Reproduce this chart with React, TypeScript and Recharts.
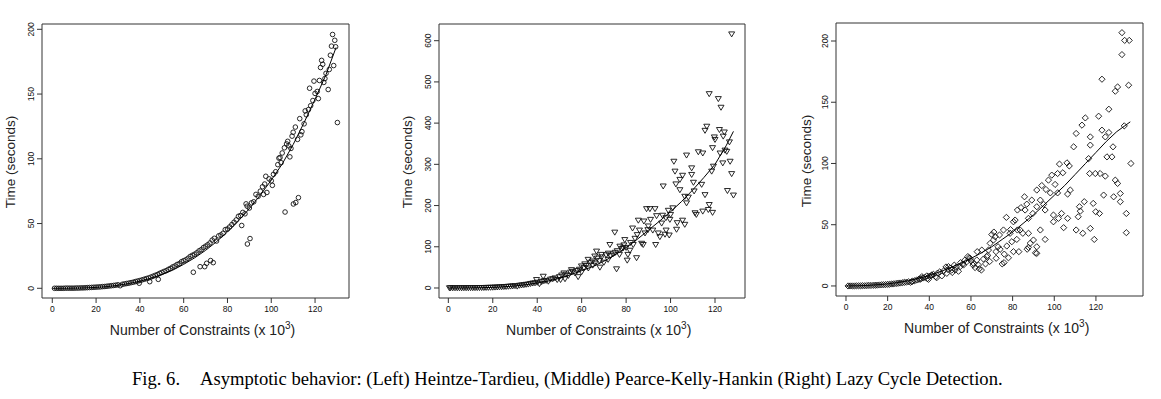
import React from 'react';
import {
  ScatterChart,
  Scatter,
  XAxis,
  YAxis,
  ReferenceArea,
} from 'recharts';

// x in thousands of constraints, y in seconds
const xTicks = [0, 20, 40, 60, 80, 100, 120];
const htTicks = [0, 50, 100, 150, 200];
const pkTicks = [0, 100, 200, 300, 400, 500, 600];
const lcTicks = [0, 50, 100, 150, 200];

const htPoints = [
  [1, 0], [2, 0], [3, 0], [4, 0], [5, 0], [6, 0.1], [7, 0.1], [8, 0.1], [9, 0.1], [10, 0.1],
  [11, 0.2], [12, 0.2], [13, 0.3], [14, 0.3], [15, 0.4], [16, 0.5], [17, 0.6], [18, 0.7], [19, 0.8], [20, 0.9],
  [21, 1.0], [22, 1.1], [23, 1.3], [24, 1.4], [25, 1.6], [26, 1.8], [27, 2.0], [28, 2.2], [29, 2.4], [30, 2.7],
  [31, 2.0], [32, 3.1], [33, 3.4], [34, 3.7], [35, 4.0], [36, 4.4], [37, 4.7], [38, 5.2], [39, 5.6], [39.7, 3.9],
  [40, 6.0], [41, 6.5], [42, 7.0], [43, 7.5], [44, 8.0], [44.5, 5.1], [45, 8.6], [46, 9.3], [47, 10.0], [48, 10.6],
  [48.4, 6.9], [49, 11.5], [50, 12.2], [51, 13.0], [52, 13.6], [53, 14.6], [54, 15.4], [55, 16.5], [56, 17.2], [57, 18.4],
  [58, 19.0], [59, 20.5], [60, 21.3], [61, 22.0], [62, 23.2], [63, 24.6], [64, 25.5], [64.4, 12.4], [65, 26.3], [66, 27.4],
  [67, 28.9], [67.5, 16.7], [68, 29.8], [69, 31.4], [69.6, 16.7], [70, 32.5], [70.5, 19.3], [71, 33.6], [72, 35.0], [72.3, 21.4],
  [73, 37.2], [73.5, 19.8], [74, 38.6], [75, 36.5], [76, 40.5], [77, 41.2], [78, 42.5], [79, 45.3], [80, 45.8], [81, 47.4],
  [82, 49.2], [83, 51.0], [84, 52.8], [85, 55.6], [86, 56.2], [86.5, 48.5], [87, 58.6], [88, 57.5], [88.5, 65.2], [89, 63.4],
  [89.1, 34.2], [90, 62.0], [90.3, 38.4], [91, 66.0], [92, 66.8], [93, 72.5], [94, 71.0], [95, 75.0], [96, 78.4], [96.5, 72.5],
  [97, 80.5], [97.5, 86.5], [98, 74.0], [99, 84.5], [100, 83.0], [100.5, 79.5], [101, 88.0], [102, 90.0], [103, 95.5], [103.5, 100.5],
  [104, 101.0], [104.5, 97.0], [105, 104.5], [106, 108.5], [106.3, 58.9], [107, 111.5], [107.5, 113.5], [108, 110.0], [108.5, 101.5], [109, 108.0],
  [109.5, 117.5], [110, 120.5], [110.1, 65.1], [111, 124.5], [111.2, 66.2], [112, 115.0], [112.4, 70.0], [113, 131.0], [113.5, 118.5], [114, 121.0],
  [115, 127.0], [115.5, 137.0], [116, 134.0], [117, 138.0], [117.5, 154.5], [118, 141.0], [119, 145.0], [119.5, 160.0], [120, 150.5], [121, 152.0],
  [121.5, 146.5], [122, 160.5], [122.5, 170.5], [123, 176.0], [123.5, 173.0], [124, 159.0], [124.5, 162.0], [125, 166.0], [126, 153.5], [126.5, 169.0],
  [127, 180.0], [127.5, 187.0], [128, 196.0], [128.5, 172.0], [129, 191.5], [129.4, 186.5], [130.2, 128.0],
];
const htFit = [
  [0, 0], [5, 0], [10, 0.1], [15, 0.3], [20, 0.7], [25, 1.3], [30, 2.3], [35, 3.7], [40, 5.5], [45, 7.8],
  [50, 10.6], [55, 14], [60, 18.5], [65, 23.5], [70, 29.3], [75, 36], [80, 43.5], [85, 52], [90, 61.5], [95, 72],
  [100, 83.5], [105, 96], [110, 111], [115, 128], [120, 146], [125, 165], [129.6, 186],
];

const pkPoints = [
  [0.5, 0], [1, 0], [2, 0], [3, 0], [4, 0], [5, 0], [6, 0], [7, 0.1], [8, 0.1], [9, 0.1],
  [10, 0.2], [11, 0.2], [12, 0.3], [13, 0.4], [14, 0.5], [15, 0.6], [16, 0.7], [17, 0.9], [18, 1.0], [19, 1.2],
  [20, 1.4], [21, 1.7], [22, 1.9], [23, 2.2], [24, 2.5], [25, 2.9], [26, 3.2], [27, 3.7], [28, 4.1], [29, 4.6],
  [30, 5.1], [31, 4.0], [32, 6.2], [33, 7.0], [34, 7.5], [35, 8.5], [36, 9.0], [37, 10.5], [38, 11.5], [39, 12.0],
  [39.7, 20], [40, 13.5], [41, 10], [42, 15], [42.7, 28], [43, 17], [44, 18], [45, 16], [46, 21], [47, 22],
  [48, 24], [49, 20], [50, 27], [50.5, 20], [51, 31], [52, 36], [52.5, 22], [53, 33], [54, 30], [55, 38],
  [55.4, 44], [56, 40], [57, 36], [58, 42], [58.4, 27], [59, 45], [59.9, 53], [60, 39], [61, 49], [61.4, 58],
  [62, 54], [62.9, 69], [63, 48], [64, 62], [64.9, 65], [65, 55], [65.9, 77], [66, 60], [66.7, 89], [67, 72],
  [68, 66], [68.2, 50], [68.9, 81], [69, 75], [70, 62], [71, 80], [71.9, 69], [72, 84], [72.7, 105], [73, 78],
  [74, 82], [74.9, 135], [75, 86], [75.7, 46], [76, 90], [77, 81], [77.2, 101], [78, 95], [78.7, 97], [79, 104],
  [79.4, 117], [80, 98], [80.5, 67], [80.8, 81], [81.7, 91], [82, 110], [82.9, 145], [83.2, 105], [84, 120], [84.7, 73],
  [85, 129], [85.5, 164], [86, 140], [87, 108], [87.7, 105], [88, 162], [88.5, 133], [89.2, 192], [89.8, 141], [90, 150],
  [90.7, 192], [91, 166], [92, 140], [93, 192], [93.3, 105], [93.7, 175], [94.5, 133], [95.2, 124], [96, 157], [96.4, 176],
  [96.7, 247], [97.5, 130], [97.9, 170], [98, 140], [99, 188], [99.4, 128], [99.7, 166], [100, 178], [101, 194], [101.5, 307],
  [102, 283], [102.4, 252], [102.7, 142], [103, 158], [104.2, 263], [104.2, 238], [105.4, 273], [105.4, 164], [106.4, 222], [106.4, 154],
  [107.2, 206], [107.2, 322], [108, 220], [109.5, 291], [109.5, 275], [110.3, 256], [110.6, 235], [111, 182], [111.6, 178], [112.5, 330],
  [114, 251], [114.5, 327], [114.5, 186], [115.5, 226], [115.5, 382], [116.3, 392], [117, 190], [117.4, 202], [117.4, 471], [118.5, 283],
  [118.9, 340], [118.9, 183], [119.3, 295], [119.7, 366], [120, 360], [121.5, 459], [122, 384], [122.3, 327], [122.7, 438], [123.5, 303],
  [123.7, 368], [124.2, 378], [124.5, 334], [125.3, 331], [125.6, 236], [126.5, 354], [126.8, 307], [127.5, 277], [127.5, 616], [128.3, 225],
];
const pkFit = [
  [0, 0], [5, 0], [10, 0.2], [15, 0.6], [20, 1.5], [25, 2.9], [30, 5], [35, 8], [40, 12], [45, 17],
  [50, 23.5], [55, 32], [60, 42], [65, 52], [70, 65], [75, 80], [80, 98], [85, 118], [90, 140], [95, 162],
  [100, 185], [105, 210], [110, 238], [115, 268], [120, 300], [125, 345], [128.3, 380],
];

const lcPoints = [
  [1, 0], [2, 0], [3, 0], [4, 0], [5, 0.1], [6, 0.1], [7, 0.1], [8, 0.2], [9, 0.2], [10, 0.3],
  [11, 0.4], [12, 0.4], [13, 0.5], [14, 0.6], [15, 0.7], [16, 0.8], [17, 0.9], [18, 1.0], [19, 1.1], [20, 1.3],
  [21, 1.4], [22, 1.6], [23, 1.8], [24, 2.0], [25, 2.2], [26, 2.4], [27, 2.6], [28, 2.9], [29, 3.1], [30, 3.4],
  [31, 3.0], [31.6, 3.5], [32, 3.9], [33, 4.3], [34, 4.9], [35, 5.5], [35.6, 5.4], [36, 6.0], [36.4, 7.6], [37, 6.5],
  [38, 7.0], [38.8, 8.2], [39, 6.0], [39.6, 5.4], [40, 8.0], [41, 8.5], [41.2, 9.0], [42, 9.5], [43, 7.5], [43.6, 6.8],
  [44, 10.5], [45, 11.5], [46, 8.2], [47, 12.5], [48, 15.5], [48.4, 10.3], [49, 13.5], [49.2, 15.8], [50, 14.5], [50.8, 13],
  [51, 11], [52, 17], [52.4, 13], [53, 15.5], [54, 12], [54.8, 15.8], [55, 19], [56, 18], [56.4, 17.1], [57, 21],
  [58, 19.8], [58.5, 24], [59, 23], [59.6, 22.6], [60, 20.5], [61, 17], [61.2, 18.5], [62, 15], [62.8, 21.2], [63, 28],
  [63.6, 17.1], [64, 14], [65, 13], [65.2, 29.3], [66, 22], [67, 18], [67.6, 23.9], [68, 25], [68.4, 29.3], [69, 20],
  [69.2, 34.8], [70, 42], [70.8, 37.5], [71, 44], [71.6, 40.2], [72, 28], [72.1, 22.6], [73, 32], [73.7, 41.6], [74, 29.9],
  [75, 18], [75.6, 45.7], [75.9, 19], [76, 26], [77, 56], [77.2, 32.6], [78, 23], [78.8, 43], [79, 46], [79.6, 36.1],
  [80.4, 52.4], [80.4, 28], [81.2, 53.8], [82, 38], [82.3, 62], [82.3, 45.7], [83, 28], [83.6, 45.7], [84, 64], [84.9, 43],
  [85.7, 72.8], [86, 62], [86.8, 66.8], [87, 30], [87.6, 55.2], [87.6, 43], [87.6, 31.5], [88.4, 34.8], [89.2, 70.1], [89.7, 59.2],
  [90, 37.5], [91, 27], [91.6, 78.3], [91.6, 64.7], [91.6, 32], [91.6, 26.6], [93.3, 70.1], [93.3, 45.7], [94, 82], [94.9, 66.6],
  [95.6, 62], [95.6, 38], [96, 78.8], [97.2, 86.4], [98.1, 76], [98.8, 90.5], [99.6, 57.9], [99.6, 52.4], [100.4, 82.9], [101.6, 91.8],
  [101.6, 76], [102, 55.2], [102.5, 99.5], [103.5, 59.2], [104.1, 92.4], [104.5, 47.6], [106.1, 100.5], [106.4, 75], [106.4, 55.2], [107.2, 98],
  [107.7, 78.3], [109.3, 113.6], [110.5, 124.5], [110.5, 45.7], [111.5, 56.5], [112.1, 64.7], [112.5, 61.1], [113.3, 131.3], [113.7, 43], [114.4, 68.8],
  [114.9, 137.2], [116.5, 104], [117, 91.8], [117.3, 121.7], [117.3, 115], [117.3, 47], [118.7, 67.4], [119.2, 38], [119.7, 91.8], [119.9, 60.6],
  [121.3, 138.6], [121.7, 59.2], [122, 91.8], [122.9, 168.8], [122.9, 127.2], [123.7, 74.2], [124.5, 121.7], [124.5, 89.7], [125.3, 105.4], [126.2, 144.3],
  [126.2, 125.3], [127.7, 105.4], [128.2, 113.6], [128.5, 72.8], [129.3, 159], [129.3, 86.4], [130.4, 162.5], [130.4, 83.7], [131.7, 75.5], [131.7, 68.8],
  [132.5, 206.8], [132.5, 188.9], [133.6, 130.7], [133.8, 200.5], [134.6, 59.2], [134.6, 43.5], [135.7, 163.9], [136, 200.5], [136.8, 100],
];
const lcFit = [
  [0, 0], [5, 0.1], [10, 0.4], [15, 0.9], [20, 1.7], [25, 2.8], [30, 4.3], [35, 6.2], [40, 8.6], [45, 11.5],
  [50, 14.8], [55, 18.5], [60, 22.5], [65, 27], [70, 32], [75, 38], [80, 44], [85, 51], [90, 58], [95, 66],
  [100, 74], [105, 82], [110, 91], [115, 100], [120, 109], [125, 118], [130, 126], [136.5, 134],
];

const toXY = (pts: number[][]) => pts.map(([x, y]) => ({ x, y }));

const INK = '#111';
const SANS = '"Liberation Sans", Arial, sans-serif';
const SERIF = '"Liberation Serif", "Times New Roman", serif';

function Circle(p: any) {
  return <circle cx={p.cx} cy={p.cy} r={2.3} fill="none" stroke={INK} strokeWidth={0.9} />;
}

function TriangleDown(p: any) {
  const { cx, cy } = p;
  return (
    <polygon
      points={`${cx - 3},${cy - 2.2} ${cx + 3},${cy - 2.2} ${cx},${cy + 2.8}`}
      fill="none"
      stroke={INK}
      strokeWidth={0.9}
    />
  );
}

function Diamond(p: any) {
  const { cx, cy } = p;
  return (
    <polygon
      points={`${cx},${cy - 3.1} ${cx + 3.1},${cy} ${cx},${cy + 3.1} ${cx - 3.1},${cy}`}
      fill="none"
      stroke={INK}
      strokeWidth={0.9}
    />
  );
}

function YTick({ x, y, payload }: any) {
  return (
    <text
      x={0}
      y={0}
      transform={`translate(${x - 4},${y}) rotate(-90)`}
      textAnchor="middle"
      dy="0.35em"
      fontSize={8.5}
      fill={INK}
      fontFamily={SANS}
    >
      {payload.value}
    </text>
  );
}

interface PanelProps {
  left: number;
  top: number;
  margin: { top: number; right: number; bottom: number; left: number };
  points: number[][];
  fit: number[][];
  xDomain: [number, number];
  yDomain: [number, number];
  yTicks: number[];
  shape: (p: any) => React.ReactElement;
  xTitle: [number, number];
  yTitle: [number, number];
}

function Panel({ left, top, margin, points, fit, xDomain, yDomain, yTicks, shape, xTitle, yTitle }: PanelProps) {
  return (
    <>
      <div style={{ position: 'absolute', left, top }}>
        <ScatterChart width={360} height={340} margin={margin} style={{ fontFamily: SANS }}>
          <XAxis
            type="number"
            dataKey="x"
            domain={xDomain}
            allowDataOverflow
            ticks={xTicks}
            axisLine={false}
            tickLine={{ stroke: '#333' }}
            tickSize={5}
            tickMargin={3}
            height={30}
            tick={{ fontSize: 8.5, fill: INK }}
          />
          <YAxis
            type="number"
            dataKey="y"
            domain={yDomain}
            allowDataOverflow
            ticks={yTicks}
            axisLine={false}
            tickLine={{ stroke: '#333' }}
            tickSize={5}
            tickMargin={2}
            width={42}
            tick={<YTick />}
          />
          <Scatter data={toXY(points)} shape={shape} isAnimationActive={false} />
          {/* fitted trend */}
          <Scatter
            data={toXY(fit)}
            line={{ stroke: '#000', strokeWidth: 1 }}
            lineType="joint"
            shape={() => <g />}
            isAnimationActive={false}
          />
          {/* plot frame */}
          <ReferenceArea
            x1={xDomain[0]}
            x2={xDomain[1]}
            y1={yDomain[0]}
            y2={yDomain[1]}
            fill="none"
            fillOpacity={0}
            stroke="#333"
            strokeWidth={1}
          />
        </ScatterChart>
      </div>
      <div
        style={{
          position: 'absolute',
          left: xTitle[0],
          top: xTitle[1],
          transform: 'translate(-50%, -50%)',
          whiteSpace: 'nowrap',
          fontFamily: SANS,
          fontSize: 14,
          color: '#222',
          lineHeight: '16px',
        }}
      >
        Number of Constraints (x 10<sup style={{ fontSize: 10 }}>3</sup>)
      </div>
      <div
        style={{
          position: 'absolute',
          left: yTitle[0],
          top: yTitle[1],
          transform: 'translate(-50%, -50%) rotate(-90deg)',
          whiteSpace: 'nowrap',
          fontFamily: SANS,
          fontSize: 13.5,
          color: '#222',
          lineHeight: '16px',
        }}
      >
        Time (seconds)
      </div>
    </>
  );
}

export default function App() {
  const caption = {
    position: 'absolute' as const,
    top: 369,
    fontFamily: SERIF,
    fontSize: 18.6,
    lineHeight: '19px',
    whiteSpace: 'nowrap' as const,
    color: '#000',
  };
  return (
    <div
      style={{
        position: 'absolute',
        left: 0,
        top: 0,
        width: 1161,
        height: 399,
        background: '#fff',
        overflow: 'hidden',
      }}
    >
      <Panel
        left={0}
        top={0}
        margin={{ top: 24, right: 11, bottom: 12, left: 0 }}
        points={htPoints}
        fit={htFit}
        xDomain={[-4.7, 135.5]}
        yDomain={[-7.5, 204.1]}
        yTicks={htTicks}
        shape={Circle}
        xTitle={[202.5, 328]}
        yTitle={[11, 161.5]}
      />
      <Panel
        left={397}
        top={0}
        margin={{ top: 24, right: 12, bottom: 12, left: 0 }}
        points={pkPoints}
        fit={pkFit}
        xDomain={[-4.2, 133.5]}
        yDomain={[-24.3, 640.5]}
        yTicks={pkTicks}
        shape={TriangleDown}
        xTitle={[598.7, 328]}
        yTitle={[408.3, 162]}
      />
      <Panel
        left={794}
        top={0}
        margin={{ top: 23, right: 11, bottom: 14, left: 0 }}
        points={lcPoints}
        fit={lcFit}
        xDomain={[-4.8, 142.6]}
        yDomain={[-8.2, 214.7]}
        yTicks={lcTicks}
        shape={Diamond}
        xTitle={[996.7, 325.5]}
        yTitle={[806.7, 161]}
      />
      <div style={{ ...caption, left: 132 }}>Fig. 6.</div>
      <div style={{ ...caption, left: 200 }}>
        Asymptotic behavior: (Left) Heintze-Tardieu, (Middle) Pearce-Kelly-Hankin (Right) Lazy Cycle Detection.
      </div>
    </div>
  );
}
